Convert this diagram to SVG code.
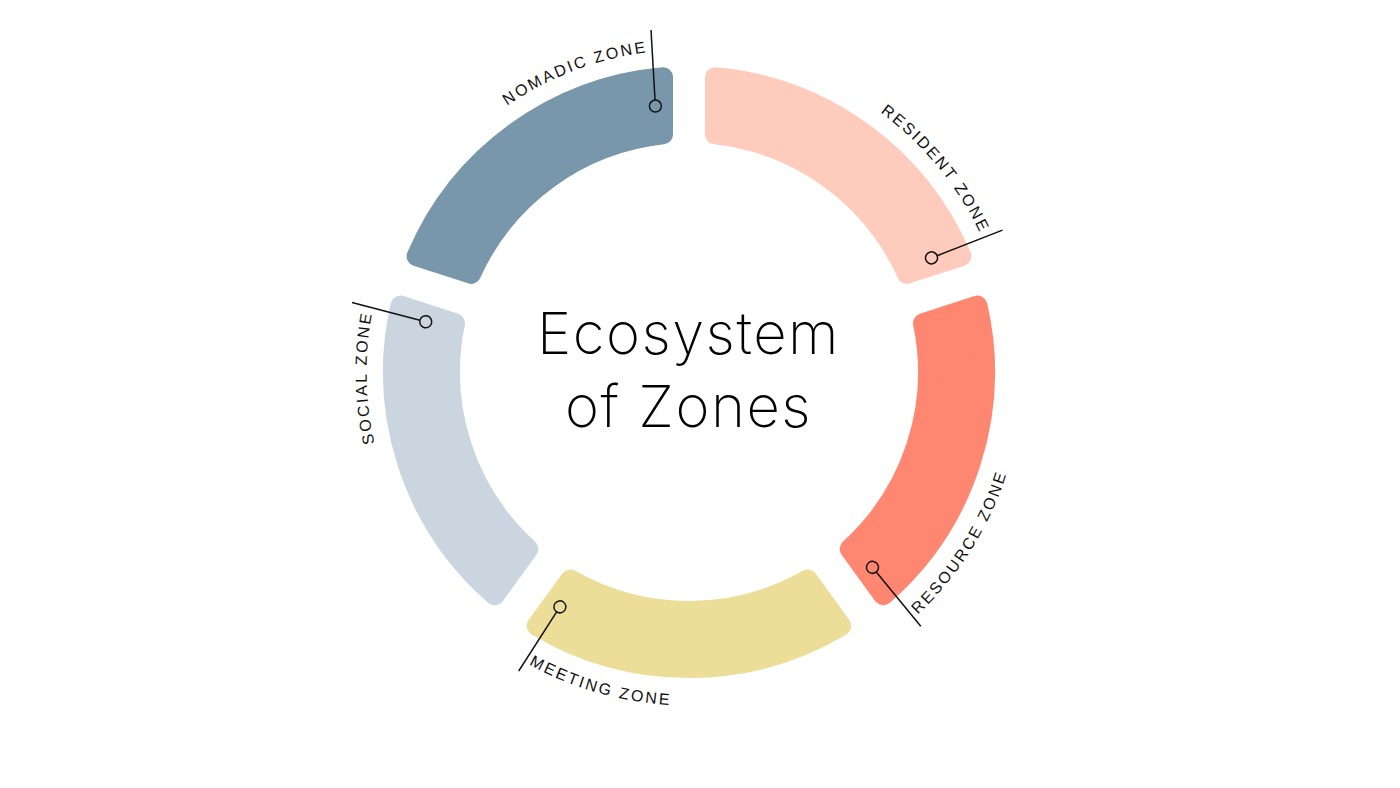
<svg xmlns="http://www.w3.org/2000/svg" xmlns:xlink="http://www.w3.org/1999/xlink" width="1400" height="788" viewBox="0 0 1400 788">
  <style>
    .seg { stroke-width: 20; stroke-linejoin: round; }
    .label { font-family: "Liberation Sans", Arial, sans-serif; font-size: 16px; letter-spacing: 2.3px; fill: #111; }
    .title { font-family: Inter, "Liberation Sans", sans-serif; font-weight: 200; font-size: 58px; letter-spacing: 1.5px; fill: #000; text-anchor: middle; }
    .lead { stroke: #111; stroke-width: 1.5; fill: none; }
  </style>
  <defs>
    <path id="segShape" d="M416.61,256.16 A296,296 0 0 1 663,77.14 L663,134.42 A239,239 0 0 0 471.08,273.86 Z"/>
    <path id="tp-nomadic" d="M461.0,144.0 A322.5,322.5 0 0 1 648.0,52.1"/>
    <path id="tp-resident" d="M850.25,92.71 A322.5,322.5 0 0 1 980.57,234.18"/>
    <path id="tp-social" d="M385.95,482.30 A322.5,322.5 0 0 1 372.11,312.12"/>
    <path id="tp-resource" d="M917.72,614.71 A333.5,333.5 0 0 0 1017.43,429.91"/>
    <path id="tp-meeting" d="M528.85,664.53 A333.5,333.5 0 0 0 718.07,704.23"/>
  </defs>
  <rect width="1400" height="788" fill="#ffffff"/>

  <g id="nomadic-zone">
    <use xlink:href="#segShape" class="seg" fill="#7897ab" stroke="#7897ab"/>
    <text class="label"><textPath xlink:href="#tp-nomadic" startOffset="100%" text-anchor="end">NOMADIC ZONE</textPath></text>
  </g>
  <g id="resident-zone">
    <use xlink:href="#segShape" class="seg" fill="#ffcbbc" stroke="#ffcbbc" transform="rotate(72 689 372)"/>
    <text class="label"><textPath xlink:href="#tp-resident" startOffset="100%" text-anchor="end">RESIDENT ZONE</textPath></text>
  </g>
  <g id="resource-zone">
    <use xlink:href="#segShape" class="seg" fill="#ff8670" stroke="#ff8670" transform="rotate(144 689 372)"/>
    <text class="label"><textPath xlink:href="#tp-resource">RESOURCE ZONE</textPath></text>
  </g>
  <g id="meeting-zone">
    <use xlink:href="#segShape" class="seg" fill="#ecde98" stroke="#ecde98" transform="rotate(216 689 372)"/>
    <text class="label"><textPath xlink:href="#tp-meeting">MEETING ZONE</textPath></text>
  </g>
  <g id="social-zone">
    <use xlink:href="#segShape" class="seg" fill="#cbd5df" stroke="#cbd5df" transform="rotate(288 689 372)"/>
    <text class="label"><textPath xlink:href="#tp-social" startOffset="100%" text-anchor="end">SOCIAL ZONE</textPath></text>
  </g>

  <g id="connectors">
    <g id="lead-nomadic">
      <line class="lead" x1="655.05" y1="100.1" x2="651" y2="30"/>
      <circle class="lead" cx="655.4" cy="106.1" r="6"/>
    </g>
    <g id="lead-resident" transform="rotate(72 689 372)">
      <line class="lead" x1="655.05" y1="100.1" x2="651" y2="30"/>
      <circle class="lead" cx="655.4" cy="106.1" r="6"/>
    </g>
    <g id="lead-resource" transform="rotate(144 689 372)">
      <line class="lead" x1="655.05" y1="100.1" x2="651" y2="30"/>
      <circle class="lead" cx="655.4" cy="106.1" r="6"/>
    </g>
    <g id="lead-meeting" transform="rotate(216 689 372)">
      <line class="lead" x1="655.05" y1="100.1" x2="651" y2="30"/>
      <circle class="lead" cx="655.4" cy="106.1" r="6"/>
    </g>
    <g id="lead-social" transform="rotate(288 689 372)">
      <line class="lead" x1="655.05" y1="100.1" x2="651" y2="30"/>
      <circle class="lead" cx="655.4" cy="106.1" r="6"/>
    </g>
  </g>

  <g id="title">
    <text class="title" x="688.5" y="354">Ecosystem</text>
    <text class="title" x="688.5" y="427">of Zones</text>
  </g>
</svg>
